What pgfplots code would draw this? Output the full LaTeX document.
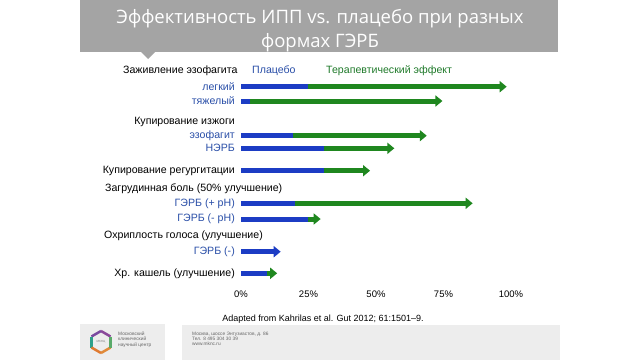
\documentclass[border=0pt]{standalone}
\usepackage{pgfplots}
\pgfplotsset{compat=1.18}
\usepackage{pgfplotstable}
\usetikzlibrary{arrows.meta}
\usepackage{fontspec}
\setmainfont{Liberation Sans}
\newfontfamily\titlefont{Open Sans}
\definecolor{barblue}{HTML}{1C3CC4}
\definecolor{bargreen}{HTML}{1F871F}
\definecolor{lblblue}{HTML}{2A4FA8}
\definecolor{lblgreen}{HTML}{1F7A2A}
\definecolor{banner}{HTML}{A4A4A4}
\definecolor{foot}{HTML}{EDEDED}

\pgfplotstableread{
x y u v
0 86.7 24.9 0
0 101 3.3 0
0 135.7 19.4 0
0 148.3 30.9 0
0 170.7 30.9 0
0 203.3 20.0 0
0 219 24.9 0
0 273.3 9.5 0
}\placebo
\pgfplotstableread{
x y u v
0 251.7 14.7 0
}\placeboarrow
\pgfplotstableread{
x y u v
24.9 86.7 73.5 0
3.3 101 71.3 0
19.4 135.7 49.4 0
30.9 148.3 25.9 0
30.9 170.7 16.9 0
20.0 203.3 65.8 0
24.9 219 4.6 0
9.5 273.3 3.9 0
}\effect

\begin{document}
\begin{tikzpicture}[x=1pt,y=1pt]
\fill[white] (0,0) rectangle (640,360);
% banner
\fill[banner] (80,308) rectangle (558,360);
\fill[banner] (141,308) -- (155,308) -- (148,301) -- cycle;
\node[anchor=base, text=white, font=\titlefont\fontsize{18.5}{20}\selectfont] at (320,337) {Эффективность ИПП vs. плацебо при разных};
\node[anchor=base, text=white, font=\titlefont\fontsize{18.5}{20}\selectfont] at (320,313) {формах ГЭРБ};
% footer
\fill[foot] (80,0) rectangle (165,36);
\fill[foot] (182,0) rectangle (560,35);
\foreach \a/\c in {90/8A4A9A,150/7A4AA0,210/2FA08A,270/E07A30,330/E08A3A,30/5AAA6A}{
  \definecolor{tmp}{HTML}{\c}
  \draw[tmp, line width=2.5pt] (101,18)++(\a:11) -- ++(\a-120:11);
}
\node[font=\fontsize{3}{3}\selectfont, text=gray] at (101,18) {МКНЦ};
\node[anchor=north west, align=left, text=gray!80!black, font=\fontsize{4.8}{5.2}\selectfont, inner sep=0pt] at (118,28) {Московский\\клинический\\научный центр};
\node[anchor=north west, align=left, text=gray!80!black, font=\fontsize{4.8}{5.2}\selectfont, inner sep=0pt] at (192,28) {Москва, шоссе Энтузиастов, д. 86\\Тел. 8 495 304 30 39\\www.mknc.ru};
\node[anchor=center, font=\fontsize{9}{10}\selectfont] at (323,41) {Adapted from Kahrilas et al. Gut 2012; 61:1501--9.};

\begin{axis}[
  at={(241pt,75pt)}, anchor=south west,
  scale only axis, width=270pt, height=225pt,
  xmin=0, xmax=100, ymin=60, ymax=285, y dir=reverse,
  clip=false,
  axis line style={draw=none}, tick style={draw=none},
  major tick length=0pt,
  xtick={0,25,50,75,100},
  xticklabel={\pgfmathprintnumber{\tick}\%},
  /pgf/number format/assume math mode=true,
  xticklabel style={font=\fontsize{9.5}{10}\selectfont, yshift=-2pt},
  ytick={86.7,101,135.7,148.3,170.7,203.3,219,251.7,273.3},
  yticklabels={\textcolor{lblblue}{легкий},\textcolor{lblblue}{тяжелый},\textcolor{lblblue}{эзофагит},\textcolor{lblblue}{НЭРБ},Купирование регургитации,\textcolor{lblblue}{ГЭРБ (+ pH)},\textcolor{lblblue}{ГЭРБ (- pH)},\textcolor{lblblue}{ГЭРБ (-)},Хр. кашель (улучшение)},
  yticklabel style={font=\fontsize{10.6}{11}\selectfont, inner sep=0pt, xshift=-6pt, anchor=east},
]
\addplot[quiver={u=\thisrow{u},v=\thisrow{v}}, barblue, line width=5pt] table[x=x,y=y] {\placebo};
\addplot[quiver={u=\thisrow{u},v=\thisrow{v}}, barblue, line width=5pt, -{Triangle[length=7pt,width=11pt]}] table[x=x,y=y] {\placeboarrow};
\addplot[quiver={u=\thisrow{u},v=\thisrow{v}}, bargreen, line width=5pt, -{Triangle[length=7pt,width=11pt]}] table[x=x,y=y] {\effect};
\end{axis}
% headers and legend
\node[anchor=west, inner sep=0pt, font=\fontsize{10.6}{11}\selectfont] at (123,289) {Заживление эзофагита};
\node[anchor=west, inner sep=0pt, font=\fontsize{10.6}{11}\selectfont, text=lblblue] at (252,289) {Плацебо};
\node[anchor=west, inner sep=0pt, font=\fontsize{10.6}{11}\selectfont, text=lblgreen] at (326,289) {Терапевтический эффект};
\node[anchor=east, inner sep=0pt, font=\fontsize{10.6}{11}\selectfont] at (235,237.7) {Купирование изжоги};
\node[anchor=west, inner sep=0pt, font=\fontsize{10.6}{11}\selectfont] at (105,171.7) {Загрудинная боль (50\% улучшение)};
\node[anchor=west, inner sep=0pt, font=\fontsize{10.6}{11}\selectfont] at (104,124) {Охриплость голоса (улучшение)};
\end{tikzpicture}
\end{document}
